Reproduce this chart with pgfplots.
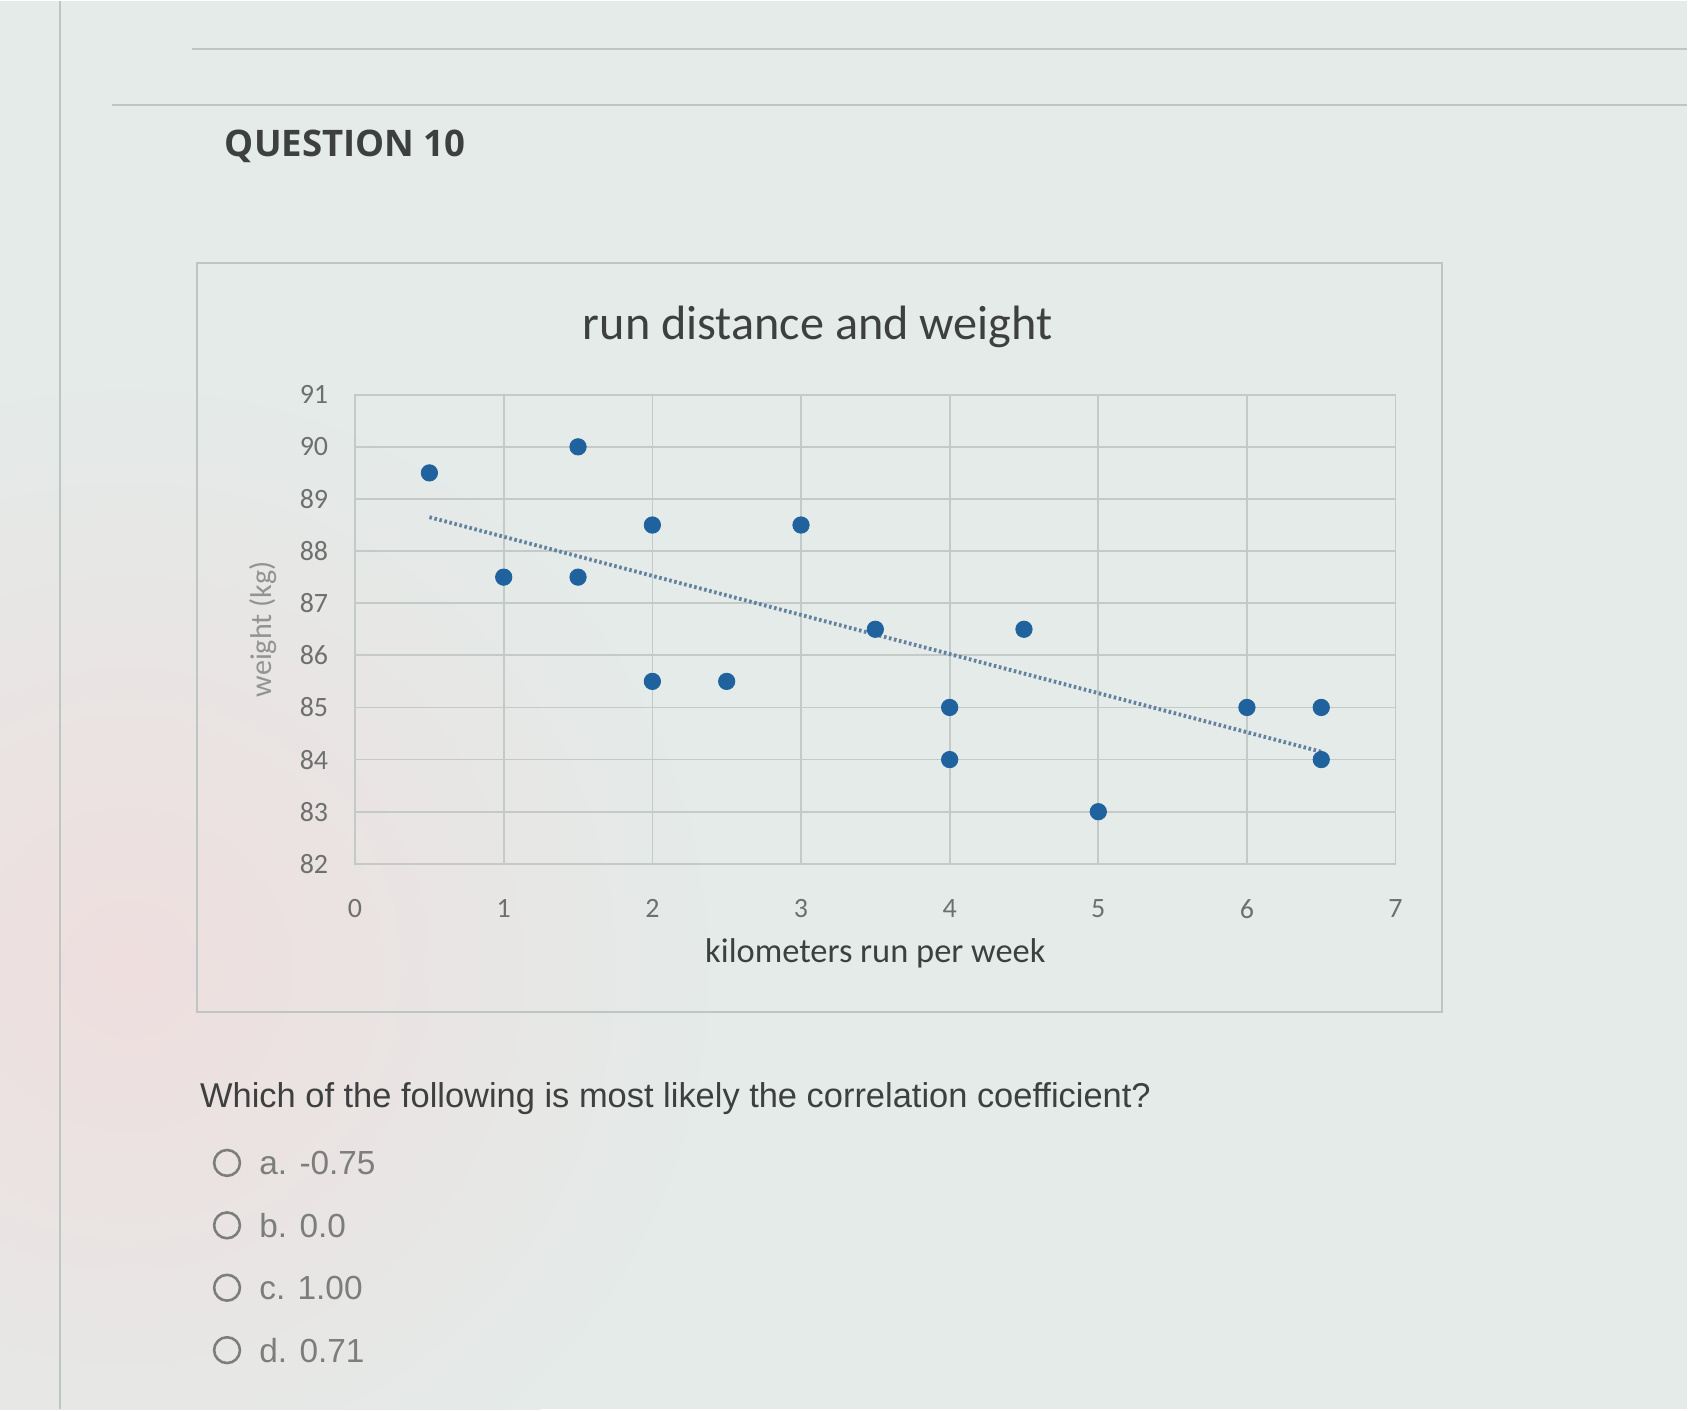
\documentclass[border=0pt]{standalone}
\usepackage{pgfplots}
\pgfplotsset{compat=1.18}
\usepackage{fontspec}
\setmainfont{Carlito}
\newfontfamily\qfont{Open Sans}
\newfontfamily\arial{Liberation Sans}

\definecolor{bgcol}{RGB}{228,235,233}
\definecolor{pinkish}{RGB}{238,222,222}
\definecolor{rule}{RGB}{190,198,196}
\definecolor{gridcol}{RGB}{196,202,200}
\definecolor{txt}{RGB}{62,64,64}
\definecolor{ticktxt}{RGB}{110,112,112}
\definecolor{optcol}{RGB}{124,126,126}
\definecolor{dotcol}{RGB}{32,98,158}
\definecolor{trendcol}{RGB}{100,130,160}

\begin{document}
\begin{tikzpicture}
% page around the chart (coordinates in screen pixels, 0.5bp each)
\begin{scope}[x=0.5bp,y=-0.5bp]
  \fill[bgcol] (0,0) rectangle (1568,1309);
  \begin{scope}
    \clip (0,0) rectangle (1568,1309);
    \shade[inner color=pinkish,outer color=bgcol] (120,900) circle[radius=560];
  \end{scope}
  \draw[rule,line width=0.8bp] (56,0) -- (56,1309);
  \draw[rule,line width=0.8bp] (178,45) -- (1568,45);
  \draw[rule,line width=0.8bp] (104,97) -- (1568,97);
  \node[anchor=west,font=\qfont\bfseries\fontsize{17bp}{20bp}\selectfont,text=txt] at (202,135) {QUESTION 10};
  % chart frame
  \draw[rule,line width=1bp] (183,244) rectangle (1340,940);
  \node[font=\fontsize{22.4bp}{26bp}\selectfont,text=txt] at (760,303) {run distance and weight};
  % question and options
  \node[anchor=west,font=\arial\fontsize{16bp}{19bp}\selectfont,text=txt] at (179,1020) {Which of the following is most likely the correlation coefficient?};
  \foreach \yy/\lab in {1080/{a. -0.75},1138/{b. 0.0},1196/{c. 1.00},1254/{d. 0.71}} {
    \draw[optcol,line width=1.2bp] (211,\yy) circle[radius=12];
    \node[anchor=west,font=\arial\fontsize{15.5bp}{18bp}\selectfont,text=optcol] at (234,\yy) {\lab};
  }
\end{scope}

\begin{axis}[
    at={(165bp,-401bp)}, anchor=south west,
    scale only axis, width=483.5bp, height=218bp,
    xmin=0, xmax=7, ymin=82, ymax=91,
    xtick={0,1,...,7}, ytick={82,83,...,91},
    grid=major,
    major grid style={gridcol,line width=0.8bp},
    axis line style={gridcol,line width=0.8bp},
    tick style={draw=none},
    ticklabel style={font=\fontsize{13bp}{15bp}\selectfont,text=ticktxt},
    /pgf/number format/assume math mode=true,
    xticklabel style={yshift=-13bp},
    yticklabel style={xshift=-9bp},
    xlabel={kilometers run per week},
    xlabel style={at={(axis description cs:0.5,-0.19)},anchor=center,
      font=\fontsize{16bp}{19bp}\selectfont,text=txt},
    ylabel={weight (kg)},
    ylabel style={at={(axis description cs:-0.088,0.5)},anchor=center,rotate=0,
      font=\fontsize{14bp}{17bp}\selectfont,text=ticktxt!75},
]
% linear trendline
\addplot[trendcol,line width=1.8bp,dash pattern=on 1.2bp off 1.2bp] coordinates {
    (0.5,88.65) (6.5,84.15)
};
\addplot[only marks,mark=*,mark size=3.8bp,dotcol,mark options={draw=dotcol,fill=dotcol}] coordinates {
    (0.5,89.5)
    (1.0,87.5)
    (1.5,90.0)
    (1.5,87.5)
    (2.0,88.5)
    (2.0,85.5)
    (2.5,85.5)
    (3.0,88.5)
    (3.5,86.5)
    (4.0,85.0)
    (4.0,84.0)
    (4.5,86.5)
    (5.0,83.0)
    (6.0,85.0)
    (6.5,85.0)
    (6.5,84.0)
};
\end{axis}
\end{tikzpicture}
\end{document}
